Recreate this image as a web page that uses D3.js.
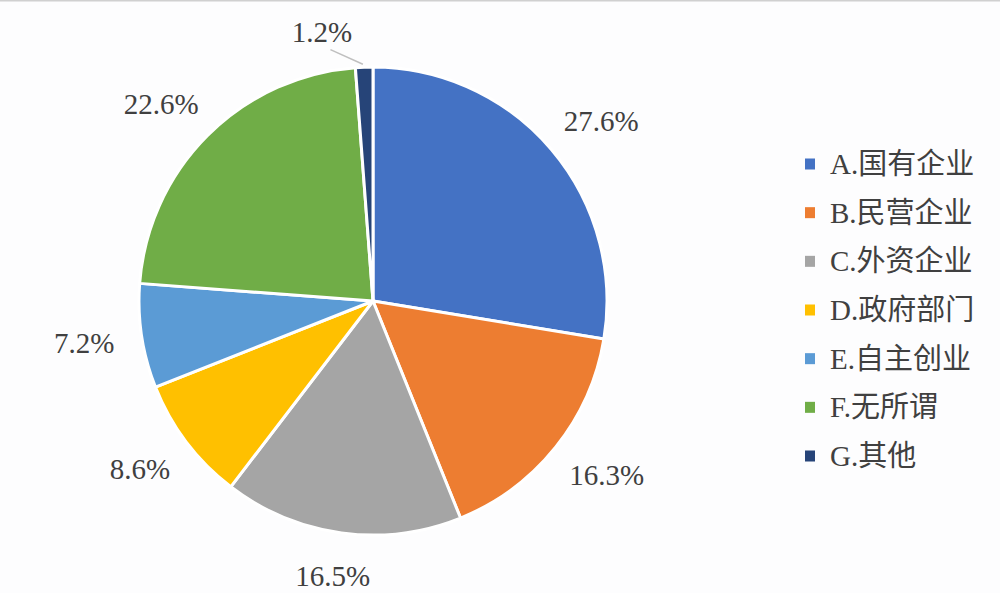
<!DOCTYPE html>
<html><head><meta charset="utf-8">
<script src="https://cdn.jsdelivr.net/npm/d3@7"></script>
<style>html,body{margin:0;padding:0;background:#fff;}</style>
</head><body>
<svg id="chart" width="1000" height="593"></svg>
<script>
const categories = ["A.国有企业","B.民营企业","C.外资企业","D.政府部门","E.自主创业","F.无所谓","G.其他"];
const values = [27.6, 16.3, 16.5, 8.6, 7.2, 22.6, 1.2];
const labels = ["27.6%","16.3%","16.5%","8.6%","7.2%","22.6%","1.2%"];
const colors = ["#4472C4","#ED7D31","#A5A5A5","#FFC000","#5B9BD5","#70AD47","#264478"];

const svg = d3.select("#chart");
svg.append("rect").attr("width",1000).attr("height",593).attr("fill","#fdfdfe");
svg.append("line").attr("x1",0).attr("x2",1000).attr("y1",0.5).attr("y2",0.5).attr("stroke","#d0d0d0").attr("stroke-width",2);

const cx = 373, cy = 301, R = 234;
const g = svg.append("g").attr("transform",`translate(${cx},${cy})`);
const pie = d3.pie().sort(null).value(d=>d)(values);
const arc = d3.arc().innerRadius(0).outerRadius(R);
g.selectAll("path").data(pie).join("path")
  .attr("d",arc).attr("fill",(d,i)=>colors[i])
  .attr("stroke","#fff").attr("stroke-width",3).attr("stroke-linejoin","round");

const font = "'Liberation Serif','Times New Roman','Noto Sans CJK SC',serif";
const LR = 262;
pie.forEach((d,i)=>{
  const mid = (d.startAngle+d.endAngle)/2;
  const small = (d.endAngle-d.startAngle) < 0.1;
  const t = g.append("text")
    .attr("text-anchor","middle").attr("dominant-baseline","central")
    .attr("font-family",font).attr("font-size",29).attr("fill","#404040")
    .text(labels[i]);
  const bb = t.node().getBBox();
  let x, y;
  if (small) {
    const a = mid - 0.15, r = 274;
    x = r*Math.sin(a); y = -r*Math.cos(a);
    const a1 = mid - 0.13, r1 = 255, a2 = mid - 0.005, r2 = 237;
    g.append("path")
      .attr("d", d3.line()([[r1*Math.sin(a1), -r1*Math.cos(a1)],[r2*Math.sin(a2), -r2*Math.cos(a2)]]))
      .attr("stroke","#bfbfbf").attr("stroke-width",1.5).attr("fill","none");
  } else {
    x = LR*Math.sin(mid) + bb.width/2*Math.sin(mid);
    y = -LR*Math.cos(mid) - bb.height/2*Math.cos(mid);
  }
  t.attr("x", x).attr("y", y);
});

const legend = svg.append("g").attr("transform","translate(805,164)");
const ly = d3.scalePoint().domain(categories).range([0, 292]);
categories.forEach((c,i)=>{
  legend.append("rect").attr("x",0).attr("y",ly(c)-5.5).attr("width",10).attr("height",11).attr("fill",colors[i]);
  legend.append("text").attr("x",25).attr("y",ly(c)).attr("dominant-baseline","central")
    .attr("font-family",font).attr("font-size",29).attr("fill","#404040").text(c);
});
</script>
</body></html>
